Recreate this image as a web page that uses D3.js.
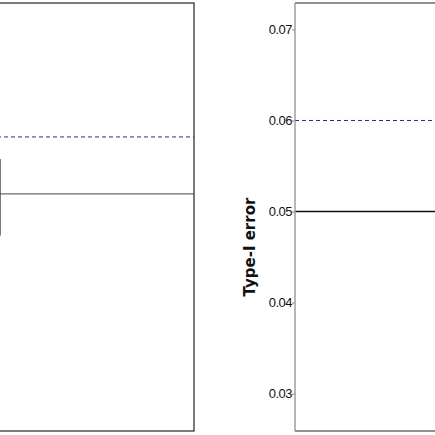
<!DOCTYPE html>
<html><head><meta charset="utf-8">
<script src="https://cdn.jsdelivr.net/npm/d3@7"></script>
<style>body{margin:0;background:#fff}</style>
</head><body>
<svg id="c" width="435" height="435"></svg>
<script>
// left panel: one box (only its right part is visible in the crop)
const boxes = [{name: 'A', q1: 0.0428, median: 0.05, q3: 0.0560}];
const nominal = 0.05;
const upperBound = 0.06;
const rightTicks = [0.03, 0.04, 0.05, 0.06, 0.07];

const svg = d3.select('#c');
const plotTop = 3, plotBottom = 431;

// ---- left panel
const lx = d3.scaleBand().domain(['', 'A', ' ']).range([-160, 194]).padding(0.0);
const ly = d3.scaleLinear().domain([0.0084, 0.0835]).range([plotBottom, plotTop]);
const L = svg.append('g');
L.selectAll('rect.box').data(boxes).enter().append('rect')
  .attr('x', d => lx(d.name) - 80).attr('width', 122)
  .attr('y', d => ly(d.q3)).attr('height', d => ly(d.q1) - ly(d.q3))
  .attr('fill', '#cfcfcf').attr('stroke', '#333').attr('stroke-width', 1.3);
L.append('line').attr('x1', -10).attr('x2', 194)
  .attr('y1', ly(nominal)).attr('y2', ly(nominal)).attr('stroke', '#444').attr('stroke-width', 1);
L.append('line').attr('x1', -10).attr('x2', 194)
  .attr('y1', ly(upperBound)).attr('y2', ly(upperBound))
  .attr('stroke', '#2a2a8a').attr('stroke-width', 1).attr('stroke-dasharray', '4,3');
L.append('rect').attr('x', -10).attr('y', plotTop).attr('width', 204).attr('height', plotBottom - plotTop)
  .attr('fill', 'none').attr('stroke', '#222').attr('stroke-width', 1.2);

// ---- right panel
const rx0 = 295;
const ry = d3.scaleLinear().domain([0.0259, 0.0729]).range([plotBottom, plotTop]);
const R = svg.append('g');
R.append('line').attr('x1', rx0).attr('x2', 440)
  .attr('y1', ry(nominal)).attr('y2', ry(nominal)).attr('stroke', '#111').attr('stroke-width', 1.4);
R.append('line').attr('x1', rx0).attr('x2', 440)
  .attr('y1', ry(upperBound)).attr('y2', ry(upperBound))
  .attr('stroke', '#2a2a8a').attr('stroke-width', 1).attr('stroke-dasharray', '4,3');
R.append('line').attr('x1', rx0).attr('x2', 440).attr('y1', plotTop).attr('y2', plotTop).attr('stroke', '#222').attr('stroke-width', 1.2);
R.append('line').attr('x1', rx0).attr('x2', 440).attr('y1', plotBottom).attr('y2', plotBottom).attr('stroke', '#222').attr('stroke-width', 1.2);
const ax = R.append('g').attr('transform', `translate(${rx0},0)`)
  .call(d3.axisLeft(ry).tickValues(rightTicks).tickFormat(d3.format('.2f')).tickSize(3).tickSizeOuter(0));
ax.select('.domain').remove();
R.append('line').attr('x1', rx0).attr('x2', rx0).attr('y1', plotTop).attr('y2', plotBottom).attr('stroke', '#999').attr('stroke-width', 1.4);
ax.selectAll('line').attr('stroke', '#888');
ax.selectAll('text').attr('font-family', 'Liberation Sans Narrow, Arial Narrow, sans-serif')
  .attr('font-size', 13).attr('fill', '#111').attr('x', -3).attr('letter-spacing', -0.5);
R.append('text').text('Type-I error')
  .attr('transform', `translate(250,${(ry(0.05) + ry(0.04)) / 2 - 10}) rotate(-90)`)
  .attr('text-anchor', 'middle').attr('dy', '0.35em')
  .attr('font-family', 'DejaVu Sans, sans-serif').attr('font-weight', 'bold').attr('font-size', 15).attr('fill', '#111');
</script>
</body></html>
